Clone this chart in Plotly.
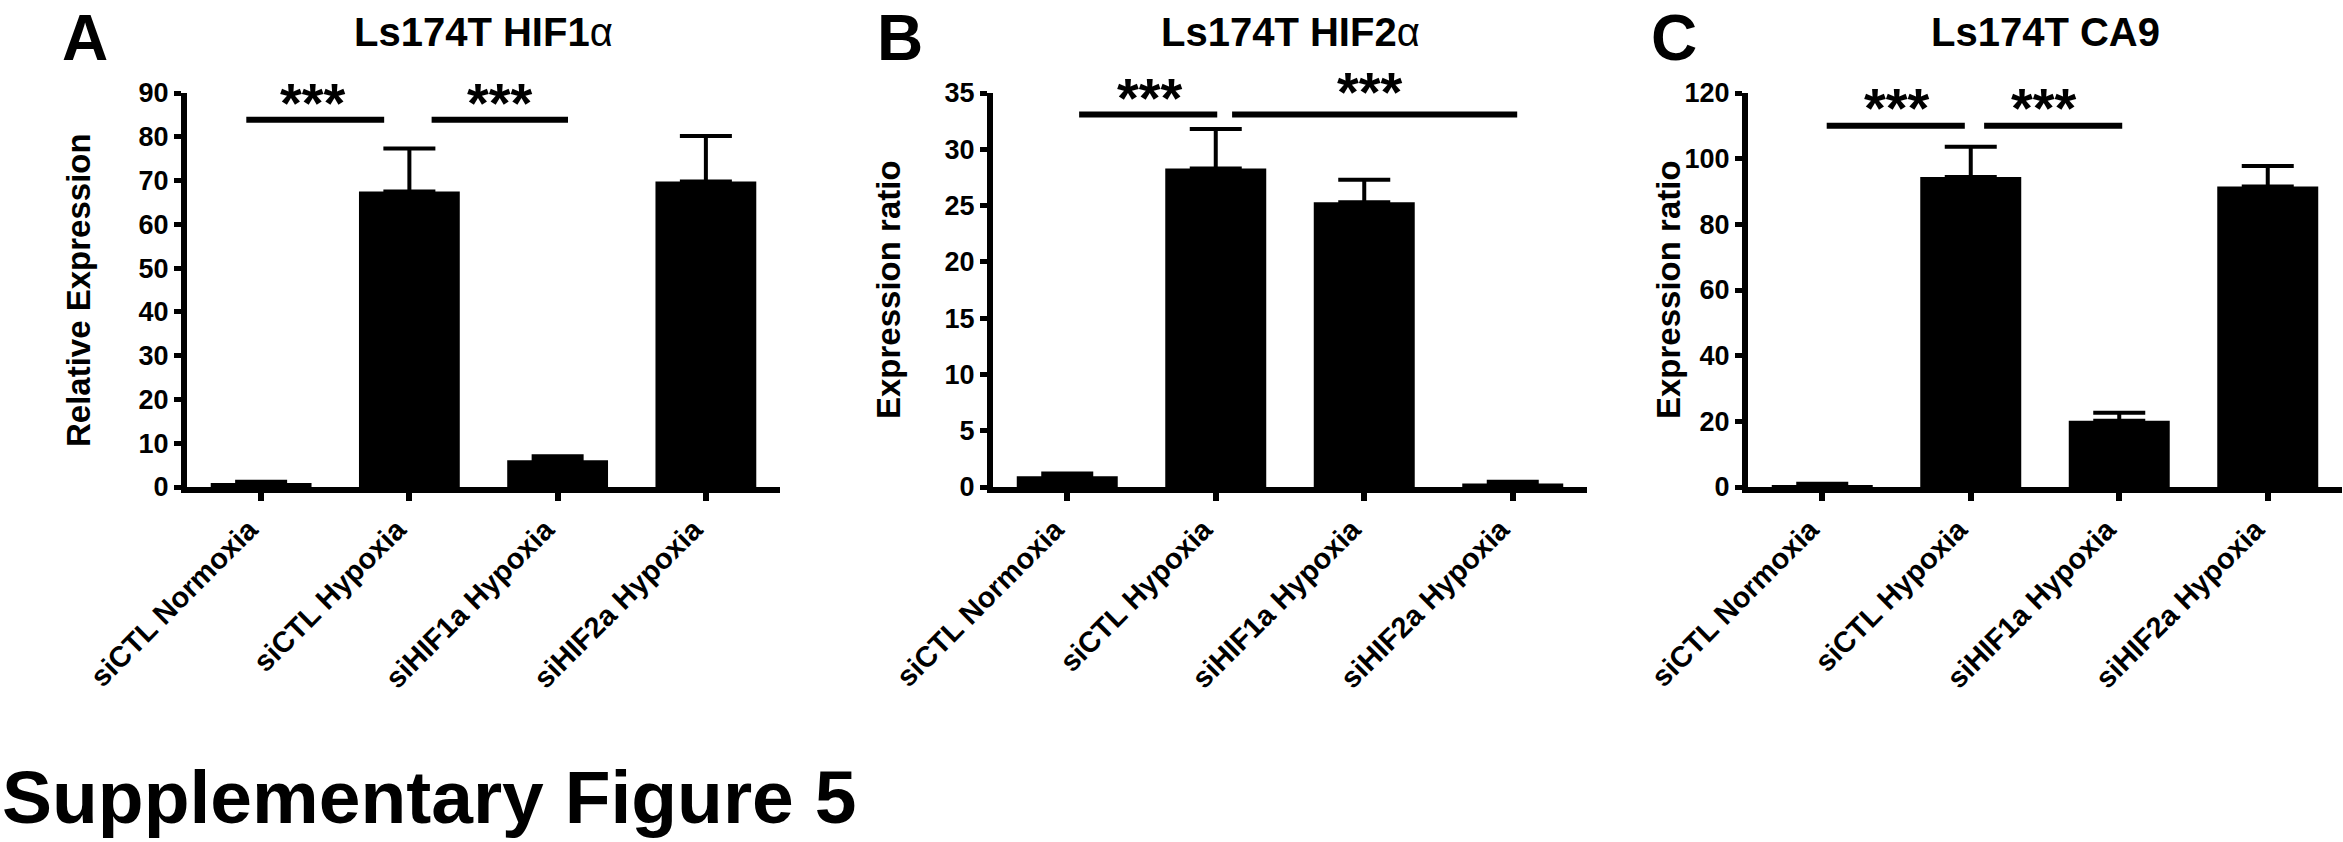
import plotly.graph_objects as go

W, H = 2343, 842

groups = ["siCTL Normoxia", "siCTL Hypoxia", "siHIF1a Hypoxia", "siHIF2a Hypoxia"]

hif1a_mean = [0.9, 67.5, 6.1, 69.8]
hif1a_err = [0.3, 9.8, 0.9, 10.4]
hif2a_mean = [0.95, 28.3, 25.3, 0.3]
hif2a_err = [0.25, 3.5, 2.0, 0.17]
ca9_mean = [0.5, 94.4, 20.2, 91.5]
ca9_err = [0.5, 9.2, 2.4, 6.3]

panel_titles = ["<b>Ls174T HIF1</b>α", "<b>Ls174T HIF2</b>α", "<b>Ls174T CA9</b>"]
panel_letters = ["A", "B", "C"]
y_titles = ["Relative Expression", "Expression ratio", "Expression ratio"]
y_ranges = [[0, 90], [0, 35], [0, 120]]
y_dticks = [10, 5, 20]

# significance bars: (x0, x1, y) and stars (x, y), in category / data units
sig_lines = [
    [(-0.10, 0.83, 83.9), (1.15, 2.07, 83.9)],
    [(0.08, 1.01, 33.1), (1.11, 3.03, 33.1)],
    [(0.03, 0.96, 110.0), (1.09, 2.02, 110.0)],
]
sig_stars = [
    [(0.35, 86.2), (1.61, 86.2)],
    [(0.56, 34.0), (2.04, 34.55)],
    [(0.50, 113.5), (1.49, 113.5)],
]

FONT = "Liberation Sans, Arial, sans-serif"

# pixel layout of each panel
x_px = [(187, 780), (993, 1587), (1748, 2342)]
y_px = (93, 487)
ytitle_x = [78, 888, 1668]
letter_x = [60, 875, 1649]

fig = go.Figure()
series = [(hif1a_mean, hif1a_err), (hif2a_mean, hif2a_err), (ca9_mean, ca9_err)]

annotations = []
shapes = []
for i, (mean, err) in enumerate(series):
    sfx = "" if i == 0 else str(i + 1)
    fig.add_trace(go.Bar(
        x=groups, y=mean, width=0.68,
        marker=dict(color="black", line=dict(width=0)),
        error_y=dict(type="data", array=err, arrayminus=[0] * 4, symmetric=False,
                     thickness=4, width=26, color="black"),
        xaxis="x" + sfx, yaxis="y" + sfx, showlegend=False,
    ))
    axis_common = dict(showline=True, linecolor="black", showgrid=False, zeroline=False,
                       ticks="outside", tickcolor="black", automargin=False)
    fig.update_layout(**{
        "xaxis" + sfx: dict(
            domain=[x_px[i][0] / W, x_px[i][1] / W], anchor="y" + sfx,
            type="category", range=[-0.5, 3.5], linewidth=6, ticklen=8, tickwidth=6,
            tickangle=-45, ticklabelshift=-12,
            tickfont=dict(family=FONT, size=29, color="black", weight="bold"),
            **axis_common),
        "yaxis" + sfx: dict(
            domain=[1 - y_px[1] / H, 1 - y_px[0] / H], anchor="x" + sfx,
            range=y_ranges[i], dtick=y_dticks[i], linewidth=6, ticklen=7, tickwidth=5,
            tickfont=dict(family=FONT, size=27, color="black", weight="bold"),
            **axis_common),
    })
    for (x0, x1, y) in sig_lines[i]:
        shapes.append(dict(type="line", xref="x" + sfx, yref="y" + sfx,
                           x0=x0, x1=x1, y0=y, y1=y, line=dict(color="black", width=6)))
    for (sx, sy) in sig_stars[i]:
        annotations.append(dict(text="<b>***</b>", x=sx, y=sy, xref="x" + sfx, yref="y" + sfx,
                                showarrow=False, yanchor="middle", yshift=7,
                                font=dict(family=FONT, size=56, color="black")))
    # panel title
    annotations.append(dict(text=panel_titles[i], x=(x_px[i][0] + x_px[i][1]) / 2 / W,
                            y=1 - 32.5 / H, xref="paper", yref="paper", showarrow=False,
                            xanchor="center", yanchor="middle",
                            font=dict(family=FONT, size=40, color="black")))
    # panel letter
    annotations.append(dict(text="<b>" + panel_letters[i] + "</b>", x=letter_x[i] / W,
                            y=1, xref="paper", yref="paper", showarrow=False,
                            xanchor="left", yanchor="top",
                            font=dict(family=FONT, size=64, color="black")))
    # y axis title
    annotations.append(dict(text="<b>" + y_titles[i] + "</b>", x=ytitle_x[i] / W,
                            y=1 - 290 / H, xref="paper", yref="paper", showarrow=False,
                            textangle=-90, xanchor="center", yanchor="middle",
                            font=dict(family=FONT, size=33, color="black")))

annotations.append(dict(text="<b>Supplementary Figure 5</b>", x=0, y=1 - 797 / H,
                        xref="paper", yref="paper", showarrow=False,
                        xanchor="left", yanchor="middle",
                        font=dict(family=FONT, size=75, color="black")))

fig.update_layout(
    width=W, height=H, margin=dict(l=0, r=0, t=0, b=0, autoexpand=False),
    paper_bgcolor="white", plot_bgcolor="white",
    bargap=0.3, annotations=annotations, shapes=shapes,
)

fig.write_html("out.html", config={"displayModeBar": False},
               post_script="document.body.style.margin='0';")
